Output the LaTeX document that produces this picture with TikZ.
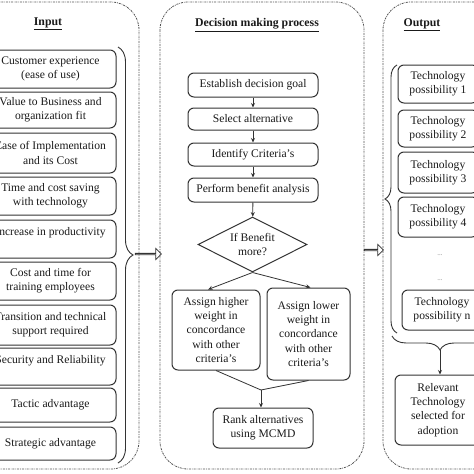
\documentclass[tikz,border=0pt]{standalone}
\usepackage{fontspec}
\setmainfont{Liberation Serif}
\usetikzlibrary{shapes.geometric,shapes.arrows,decorations.pathreplacing,arrows.meta,calc}
\definecolor{boxc}{HTML}{333333}
\definecolor{panelc}{HTML}{555555}
\definecolor{txt}{HTML}{1A1A1A}
\begin{document}
\begin{tikzpicture}[x=1pt,y=-1pt,
  box/.style={draw=boxc, line width=1pt, rounded corners=6pt, align=center, inner sep=0pt,
    font=\fontsize{11.6}{14.2}\selectfont, text=txt},
  panel/.style={draw=panelc, line width=0.8pt, dash pattern=on 2pt off 1pt on 0.7pt off 1pt, rounded corners=28pt},
  conn/.style={draw=boxc, line width=0.8pt, -{Stealth[length=4.5pt,width=4pt]}},
  plain/.style={draw=boxc, line width=0.8pt},
  bracestyle/.style={draw=boxc, line width=0.9pt, decorate},
  title/.style={font=\fontsize{11.8}{13}\selectfont\bfseries, text=txt, inner sep=0pt},
  bigarrow/.style={single arrow, draw=boxc, line width=0.8pt, inner sep=0pt, minimum width=11pt,
    single arrow head extend=3pt, single arrow head indent=0pt},
  dots/.style={font=\fontsize{7}{7}\selectfont, text=gray, inner sep=0pt}
]
\useasboundingbox (0,0) rectangle (474,474);
\fill[white] (0,0) rectangle (474,474);
\clip (0,0) rectangle (474,474);

% panels
\draw[panel] (-40,2) rectangle (139,469);
\draw[panel] (160,2) rectangle (364,469);
\draw[panel] (383,2) rectangle (520,469);

% titles
\node[title] (tin) at (48,24) {\underline{Input}};
\node[title] (tdm) at (257,25) {\underline{Decision making process}};
\node[title] (tout) at (422,25) {\underline{Output}};

% input boxes
\begin{scope}[every node/.append style={box, minimum width=131pt}]
\node[minimum height=38pt] (i1) at (50.5,69) {Customer experience\\(ease of use)};
\node[minimum height=36pt] (i2) at (50.5,110) {Value to Business and\\organization fit};
\node[minimum height=40pt] (i3) at (50.5,153) {Ease of Implementation\\and its Cost};
\node[minimum height=38pt] (i4) at (50.5,196) {Time and cost saving\\with technology};
\node[minimum height=38pt] (i5) at (50.5,239) {Increase in productivity\\~};
\node[minimum height=38pt] (i6) at (50.5,281) {Cost and time for\\training employees};
\node[minimum height=40pt] (i7) at (50.5,325) {Transition and technical\\support required};
\node[minimum height=37pt] (i8) at (50.5,366.5) {Security and Reliability\\~};
\node[minimum height=34pt] (i9) at (50.5,405) {Tactic advantage};
\node[minimum height=33pt] (i10) at (50.5,443.5) {Strategic advantage};
\end{scope}

% left brace and arrow
\draw[bracestyle, decoration={brace, amplitude=15pt}] (118,47) -- (118,463);
\node[bigarrow, minimum height=26pt] (arrL) at (148,254) {};

% decision process
\begin{scope}[every node/.append style={box, minimum width=130pt}]
\node[minimum height=24pt] (d1) at (253,85) {Establish decision goal};
\node[minimum height=22pt] (d2) at (253,119) {Select alternative};
\node[minimum height=23pt] (d3) at (253,154.5) {Identify Criteria's};
\node[minimum height=24pt] (d4) at (253,190) {Perform benefit analysis};
\end{scope}
\node[diamond, draw=boxc, line width=1pt, align=center, inner sep=0pt, aspect=2,
  minimum width=109pt, minimum height=55pt, font=\fontsize{11.6}{14.2}\selectfont, text=txt]
  (dia) at (252.5,244.5) {If Benefit\\more?};
\node[box, minimum width=88pt, minimum height=80pt] (hi) at (216,330) {Assign higher\\weight in\\concordance\\with other\\criteria's};
\node[box, minimum width=83pt, minimum height=92pt] (lo) at (308.5,334) {Assign lower\\weight in\\concordance\\with other\\criteria's};
\node[box, minimum width=100pt, minimum height=40pt] (rank) at (263,428) {Rank alternatives\\using MCMD};

\draw[conn] (d1) -- (d2);
\draw[conn] (d2) -- (d3);
\draw[conn] (d3) -- (d4);
\draw[conn] (d4) -- (dia);
\draw[conn] (dia.south) -- ($(hi.north)+(-8,0)$);
\draw[conn] (dia.south) -- ($(lo.north)+(2,0)$);
\coordinate (merge) at (261,390);
\draw[plain] (hi.south) -- (merge);
\draw[plain] (lo.south) -- (merge);
\draw[conn] (merge) -- (merge |- rank.north);

% right arrow
\node[bigarrow, minimum height=19pt] (arrR) at (373.5,250) {};

% output
\begin{scope}[every node/.append style={box, minimum width=80pt}]
\node[minimum height=38pt] (o1) at (438,84) {Technology\\possibility 1};
\node[minimum height=37pt] (o2) at (438,128.5) {Technology\\possibility 2};
\node[minimum height=41pt] (o3) at (438,172.5) {Technology\\possibility 3};
\node[minimum height=40pt] (o4) at (438,217) {Technology\\possibility 4};
\node[minimum height=40pt] (on) at (442,310) {Technology\\possibility n};
\end{scope}
\node[dots] (dt1) at (440,255) {...};
\node[dots] (dt2) at (440,280) {...};
\draw[bracestyle, decoration={brace, amplitude=12pt}] (397,333) -- (397,65);
\draw[bracestyle, decoration={brace, amplitude=14pt}] (488,336) -- (392,336);
\coordinate (btip) at (440,350);
\node[box, minimum width=86pt, minimum height=70pt] (rel) at (438,410) {Relevant\\Technology\\selected for\\adoption};
\draw[conn] (btip) -- (btip |- rel.north);
\end{tikzpicture}
\end{document}
